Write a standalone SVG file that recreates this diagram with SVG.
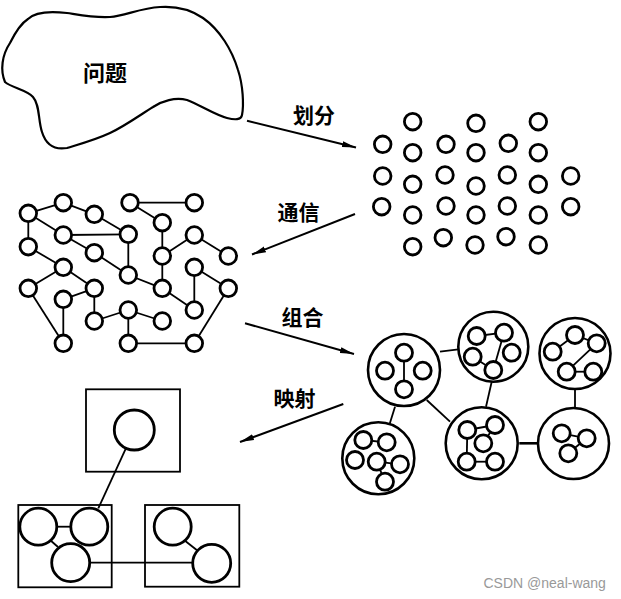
<svg xmlns="http://www.w3.org/2000/svg" width="621" height="599" viewBox="0 0 621 599">
<style>
.c{fill:#fff;stroke:#000;stroke-width:2.8}
.b{fill:#fff;stroke:#000;stroke-width:2.6}
.l{stroke:#000;stroke-width:1.8;fill:none}
.t{font-family:"Noto Sans CJK SC","Noto Sans",sans-serif;font-weight:700;fill:#000}
.a{stroke:#000;stroke-width:2;fill:none}
</style>
<defs>
<marker id="ah" markerUnits="userSpaceOnUse" markerWidth="16" markerHeight="8" refX="14" refY="4" orient="auto">
<path d="M0,1 L14,4 L0,7 Z" fill="#000"/>
</marker>
</defs>
<rect width="621" height="599" fill="#fff"/>

<g id="problem">
<path d="M5,82 C0,70 2,55 10,43 C15,33 20,24 28,19 C35,12 50,11 67,13 C80,15 95,18 110,17 C125,16 140,8 160,7 C175,6 190,9 203,18 C220,30 232,50 238,70 C243,85 244,105 242,115 C241,120 235,120 227,118 C215,115 200,105 187,100 C175,97 162,101 153,107 C140,115 125,126 110,133 C95,140 80,144 67,148 C55,150 46,145 42,132 C38,120 40,105 33,97 C27,90 12,88 5,82 Z" fill="#fff" stroke="#000" stroke-width="2.2"/>
<text class="t" x="105" y="81" font-size="22" text-anchor="middle">问题</text>
</g>

<g id="parts">
<g class="c">
<circle cx="412.7" cy="121.7" r="8.3"/><circle cx="476" cy="123.3" r="8.3"/><circle cx="538.3" cy="121.7" r="8.3"/>
<circle cx="382.7" cy="144.3" r="8.3"/><circle cx="412.7" cy="152.7" r="8.3"/><circle cx="446" cy="144.3" r="8.3"/><circle cx="476" cy="152.7" r="8.3"/><circle cx="508.3" cy="143.3" r="8.3"/><circle cx="538.3" cy="152.7" r="8.3"/>
<circle cx="382.7" cy="176" r="8.3"/><circle cx="412.7" cy="184.3" r="8.3"/><circle cx="445" cy="175" r="8.3"/><circle cx="476" cy="186" r="8.3"/><circle cx="507.3" cy="175" r="8.3"/><circle cx="538.3" cy="184.3" r="8.3"/><circle cx="570.7" cy="176" r="8.3"/>
<circle cx="381.7" cy="206.7" r="8.3"/><circle cx="412.7" cy="215" r="8.3"/><circle cx="446" cy="206" r="8.3"/><circle cx="476" cy="215" r="8.3"/><circle cx="507.3" cy="206" r="8.3"/><circle cx="538.3" cy="215" r="8.3"/><circle cx="570.7" cy="206.7" r="8.3"/>
<circle cx="412.7" cy="246.7" r="8.3"/><circle cx="443.3" cy="237.7" r="8.3"/><circle cx="475" cy="245" r="8.3"/><circle cx="506" cy="236.7" r="8.3"/><circle cx="538.3" cy="245" r="8.3"/>
</g>
</g>

<g id="communication">
<g class="l">
<line x1="28.3" y1="213.3" x2="63.3" y2="202.7"/>
<line x1="63.3" y1="202.7" x2="94.3" y2="214.3"/>
<line x1="94.3" y1="214.3" x2="128.3" y2="234.3"/>
<line x1="28.3" y1="213.3" x2="63.3" y2="235"/>
<line x1="63.3" y1="235" x2="128.3" y2="234.3"/>
<line x1="28.3" y1="213.3" x2="28.3" y2="246.7"/>
<line x1="28.3" y1="246.7" x2="63.3" y2="267.3"/>
<line x1="63.3" y1="235" x2="94.3" y2="252.7"/>
<line x1="94.3" y1="252.7" x2="128.3" y2="275"/>
<line x1="128.3" y1="234.3" x2="128.3" y2="275"/>
<line x1="130" y1="202.7" x2="194.3" y2="202.7"/>
<line x1="130" y1="202.7" x2="162.3" y2="222.7"/>
<line x1="162.3" y1="222.7" x2="162.3" y2="256"/>
<line x1="162.3" y1="256" x2="194.3" y2="235"/>
<line x1="194.3" y1="235" x2="228.3" y2="256"/>
<line x1="128.3" y1="275" x2="162.3" y2="288.3"/>
<line x1="162.3" y1="256" x2="162.3" y2="288.3"/>
<line x1="162.3" y1="288.3" x2="194.3" y2="310"/>
<line x1="194.3" y1="267.3" x2="194.3" y2="310"/>
<line x1="194.3" y1="267.3" x2="228.3" y2="288.3"/>
<line x1="228.3" y1="288.3" x2="194.3" y2="343.3"/>
<line x1="128.3" y1="343.3" x2="194.3" y2="343.3"/>
<line x1="63.3" y1="267.3" x2="28.3" y2="288.3"/>
<line x1="63.3" y1="267.3" x2="94.3" y2="288.3"/>
<line x1="28.3" y1="288.3" x2="63.3" y2="343.3"/>
<line x1="63.3" y1="299.3" x2="63.3" y2="343.3"/>
<line x1="63.3" y1="299.3" x2="94.3" y2="288.3"/>
<line x1="94.3" y1="288.3" x2="94.3" y2="321"/>
<line x1="94.3" y1="321" x2="128.3" y2="310"/>
<line x1="128.3" y1="310" x2="162.3" y2="321"/>
<line x1="128.3" y1="310" x2="128.3" y2="343.3"/>
</g>
<g class="c">
<circle cx="63.3" cy="202.7" r="8.3"/><circle cx="28.3" cy="213.3" r="8.3"/><circle cx="94.3" cy="214.3" r="8.3"/><circle cx="130" cy="202.7" r="8.3"/><circle cx="194.3" cy="202.7" r="8.3"/>
<circle cx="63.3" cy="235" r="8.3"/><circle cx="128.3" cy="234.3" r="8.3"/><circle cx="162.3" cy="222.7" r="8.3"/><circle cx="194.3" cy="235" r="8.3"/>
<circle cx="28.3" cy="246.7" r="8.3"/><circle cx="94.3" cy="252.7" r="8.3"/><circle cx="162.3" cy="256" r="8.3"/><circle cx="228.3" cy="256" r="8.3"/>
<circle cx="63.3" cy="267.3" r="8.3"/><circle cx="128.3" cy="275" r="8.3"/><circle cx="194.3" cy="267.3" r="8.3"/>
<circle cx="28.3" cy="288.3" r="8.3"/><circle cx="94.3" cy="288.3" r="8.3"/><circle cx="162.3" cy="288.3" r="8.3"/><circle cx="228.3" cy="288.3" r="8.3"/>
<circle cx="63.3" cy="299.3" r="8.3"/><circle cx="128.3" cy="310" r="8.3"/><circle cx="194.3" cy="310" r="8.3"/>
<circle cx="94.3" cy="321" r="8.3"/><circle cx="162.3" cy="321" r="8.3"/>
<circle cx="63.3" cy="343.3" r="8.3"/><circle cx="128.3" cy="343.3" r="8.3"/><circle cx="194.3" cy="343.3" r="8.3"/>
</g>
</g>

<g id="clusters">
<g class="l" stroke-width="2">
<line x1="440" y1="351.7" x2="458.3" y2="349.3"/>
<line x1="491.7" y1="381.7" x2="486" y2="406.7"/>
<line x1="426.7" y1="400" x2="450" y2="421.7"/>
<line x1="395" y1="406.7" x2="389.3" y2="425"/>
<line x1="519.3" y1="443.3" x2="538.3" y2="443.3" stroke-width="2.6"/>
<line x1="575" y1="390" x2="575" y2="407.3"/>
</g>
<g class="b">
<circle cx="404" cy="370" r="36"/>
<circle cx="493.3" cy="346.7" r="35"/>
<circle cx="575" cy="353.5" r="35.5"/>
<circle cx="378.3" cy="458.3" r="36"/>
<circle cx="481.7" cy="443.3" r="36"/>
<circle cx="573.5" cy="443.5" r="35.5"/>
</g>
<g class="l">
<line x1="404" y1="352.7" x2="404" y2="389.3"/>
<line x1="476.7" y1="336" x2="504" y2="332.7"/>
<line x1="472.7" y1="356.7" x2="493.3" y2="370"/>
<line x1="504" y1="332.7" x2="493.3" y2="370"/>
<line x1="552.7" y1="351.7" x2="575" y2="335"/>
<line x1="575" y1="335" x2="596.7" y2="343.3"/>
<line x1="596.7" y1="343.3" x2="566.7" y2="371.7"/>
<line x1="566.7" y1="371.7" x2="593.3" y2="371.7"/>
<line x1="363.3" y1="440" x2="386.7" y2="442.3"/>
<line x1="376.7" y1="461.7" x2="400" y2="464.3"/>
<line x1="376.7" y1="461.7" x2="385" y2="481.7"/>
<line x1="467.3" y1="430" x2="495" y2="425"/>
<line x1="467.3" y1="430" x2="466.7" y2="461.7"/>
<line x1="466.7" y1="461.7" x2="495" y2="461.7"/>
<line x1="495" y1="425" x2="483.3" y2="443.3"/>
<line x1="561.7" y1="433.3" x2="586.7" y2="438.3"/>
<line x1="568.3" y1="453.3" x2="586.7" y2="438.3"/>
</g>
<g class="c">
<circle cx="404" cy="352.7" r="8.5"/><circle cx="385" cy="370.7" r="8.5"/><circle cx="422.7" cy="370.7" r="8.5"/><circle cx="404" cy="389.3" r="8.5"/>
<circle cx="476.7" cy="336" r="8.5"/><circle cx="504" cy="332.7" r="8.5"/><circle cx="472.7" cy="356.7" r="8.5"/><circle cx="511.7" cy="352.7" r="8.5"/><circle cx="493.3" cy="370" r="8.5"/>
<circle cx="575" cy="335" r="8.5"/><circle cx="552.7" cy="351.7" r="8.5"/><circle cx="596.7" cy="343.3" r="8.5"/><circle cx="566.7" cy="371.7" r="8.5"/><circle cx="593.3" cy="371.7" r="8.5"/>
<circle cx="363.3" cy="440" r="8.5"/><circle cx="386.7" cy="442.3" r="8.5"/><circle cx="355" cy="460" r="8.5"/><circle cx="376.7" cy="461.7" r="8.5"/><circle cx="400" cy="464.3" r="8.5"/><circle cx="385" cy="481.7" r="8.5"/>
<circle cx="467.3" cy="430" r="8.5"/><circle cx="495" cy="425" r="8.5"/><circle cx="483.3" cy="443.3" r="8.5"/><circle cx="466.7" cy="461.7" r="8.5"/><circle cx="495" cy="461.7" r="8.5"/>
<circle cx="561.7" cy="433.3" r="8.5"/><circle cx="586.7" cy="438.3" r="8.5"/><circle cx="568.3" cy="453.3" r="8.5"/>
</g>
</g>

<g id="mapping">
<g class="l" stroke-width="2.2">
<rect x="86" y="389.3" width="94" height="82.4"/>
<rect x="18.3" y="505" width="93.4" height="82.3"/>
<rect x="145" y="505" width="94.3" height="81.7"/>
<line x1="126.7" y1="446.7" x2="98.3" y2="508.3"/>
<line x1="56.8" y1="526.7" x2="70.8" y2="526.7"/>
<line x1="50" y1="540" x2="58" y2="547"/>
<line x1="89.7" y1="562.7" x2="192.7" y2="562.7"/>
<line x1="184" y1="540" x2="198" y2="551"/>
</g>
<g class="c">
<circle cx="134.3" cy="430" r="20"/>
<circle cx="38.3" cy="526.7" r="18.5"/>
<circle cx="89.3" cy="526.7" r="18.5"/>
<circle cx="70.7" cy="562.7" r="19"/>
<circle cx="172.7" cy="526.7" r="18.5"/>
<circle cx="211.7" cy="563.3" r="19"/>
</g>
</g>

<g id="connectors">
<line class="a" x1="247" y1="120.7" x2="356" y2="147.5" marker-end="url(#ah)"/>
<line class="a" x1="355" y1="214" x2="252" y2="254.5" marker-end="url(#ah)"/>
<line class="a" x1="245" y1="323.3" x2="354" y2="354" marker-end="url(#ah)"/>
<line class="a" x1="343.3" y1="404" x2="240" y2="442" marker-end="url(#ah)"/>
<text class="t" x="314" y="123" font-size="21" text-anchor="middle">划分</text>
<text class="t" x="298.5" y="220" font-size="21" text-anchor="middle">通信</text>
<text class="t" x="302.5" y="325" font-size="21" text-anchor="middle">组合</text>
<text class="t" x="294.5" y="406" font-size="21" text-anchor="middle">映射</text>
</g>

<text x="483.5" y="588" font-family="Liberation Sans, Arial, sans-serif" font-size="14" fill="#999">CSDN @neal-wang</text>
</svg>
